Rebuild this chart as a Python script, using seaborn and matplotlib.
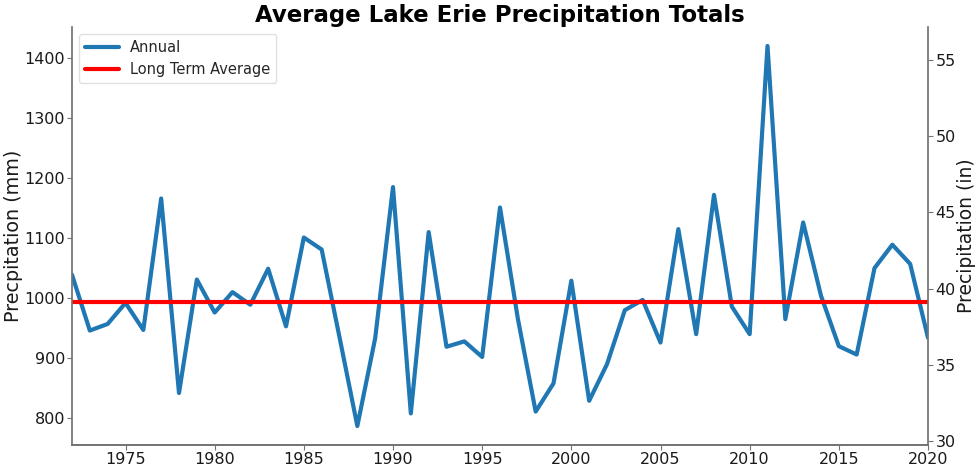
import matplotlib
matplotlib.use("Agg")
import matplotlib.pyplot as plt
import seaborn as sns
import numpy as np
import pandas as pd

years = list(range(1972, 2021))
annual_mm = [1039, 946, 957, 992, 947, 1166, 842, 1031, 976, 1010,
             989, 1049, 953, 1101, 1081, 935, 787, 933, 1185, 808,
             1110, 919, 928, 902, 1151, 966, 811, 858, 1029, 829,
             890, 980, 997, 926, 1115, 940, 1172, 986, 940, 1420,
             965, 1126, 1004, 920, 906, 1050, 1089, 1057, 934]
long_term_avg_mm = 993
mm_per_inch = 25.4

sns.set_theme(style="ticks")
plt.rcParams['font.family'] = ['DejaVu Sans']
plt.rcParams['axes.edgecolor'] = '0.45'
plt.rcParams['xtick.color'] = '0.45'
plt.rcParams['ytick.color'] = '0.45'
plt.rcParams['xtick.labelcolor'] = '0.1'
plt.rcParams['ytick.labelcolor'] = '0.1'

df = pd.DataFrame({"Year": years, "Precip": annual_mm})
df["Avg"] = long_term_avg_mm

fig = plt.figure(figsize=(9.8, 4.7), dpi=100)
ax = fig.add_axes([72/980, 1-445/470, (928-72)/980, (445-27)/470])

sns.lineplot(data=df, x="Year", y="Precip", ax=ax, color="#1f77b4",
             linewidth=3, label="Annual")
sns.lineplot(data=df, x="Year", y="Avg", ax=ax, color="red",
             linewidth=3, label="Long Term Average")

ax.set_xlim(1972, 2020)
ax.set_xticks(list(range(1975, 2021, 5)))
ax.set_yticks(list(range(800, 1401, 100)))
ax.set_xlabel("")
ax.set_ylabel("Precpitation (mm)", fontsize=13.8, color='0.1', labelpad=1)
ax.tick_params(labelsize=11.5, length=3.5, width=0.8, pad=1.5)
ax.set_title("Average Lake Erie Precipitation Totals", fontsize=16.5,
             fontweight="bold", pad=2, color="black")
ax.spines['top'].set_visible(False)
ax.spines['right'].set_visible(False)

ax2 = ax.twinx()
lo, hi = ax.get_ylim()
ax2.set_ylim(lo / mm_per_inch, hi / mm_per_inch)
ax2.set_yticks([30, 35, 40, 45, 50, 55])
ax2.set_ylabel("Precipitation (in)", fontsize=13.5, color='0.1', labelpad=1)
ax2.tick_params(labelsize=11.5, length=3.5, width=0.8, pad=2)
ax2.spines['top'].set_visible(False)
ax2.spines['left'].set_visible(False)

leg = ax.legend(loc="upper left", fontsize=10.5, frameon=True, handlelength=2.3)
leg.get_frame().set_edgecolor('0.85')

fig.savefig("out.png", dpi=100)
